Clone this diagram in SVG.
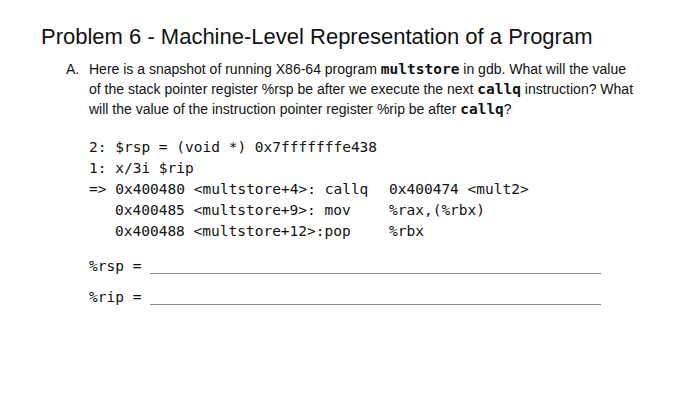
<svg xmlns="http://www.w3.org/2000/svg" width="700" height="418" viewBox="0 0 700 418">
<style>
.t{font-family:"Liberation Sans",Arial,sans-serif;font-size:14px;fill:#111}
.m{font-family:"DejaVu Sans Mono",monospace;font-size:14.5px;fill:#111}
.b{font-family:"DejaVu Sans Mono",monospace;font-weight:bold;font-size:14.5px}
.ln{stroke:#888;stroke-width:1}
</style>
<rect width="700" height="418" fill="#fff"/>
<text x="41" y="44" class="t" style="font-size:22px">Problem 6 - Machine-Level Representation of a Program</text>
<text x="66" y="74" class="t">A.</text>
<text x="89" y="74" class="t">Here is a snapshot of running X86-64 program <tspan class="b">multstore</tspan> in gdb. What will the value</text>
<text x="89" y="94" class="t">of the stack pointer register %rsp be after we execute the next <tspan class="b">callq</tspan> instruction? What</text>
<text x="89" y="114" class="t">will the value of the instruction pointer register %rip be after <tspan class="b">callq</tspan>?</text>
<text x="89" y="152" class="m">2: $rsp = (void *) 0x7fffffffe438</text>
<text x="89" y="173" class="m">1: x/3i $rip</text>
<text x="89" y="194" class="m">=> 0x400480 &lt;multstore+4&gt;: callq</text>
<text x="389" y="194" class="m">0x400474 &lt;mult2&gt;</text>
<text x="115" y="215" class="m">0x400485 &lt;multstore+9&gt;: mov</text>
<text x="389" y="215" class="m">%rax,(%rbx)</text>
<text x="115" y="236" class="m">0x400488 &lt;multstore+12&gt;:pop</text>
<text x="389" y="236" class="m">%rbx</text>
<text x="89" y="271" class="m">%rsp =</text>
<line x1="150" y1="273.5" x2="601" y2="273.5" class="ln"/>
<text x="89" y="302" class="m">%rip =</text>
<line x1="150" y1="304.5" x2="601" y2="304.5" class="ln"/>
</svg>
